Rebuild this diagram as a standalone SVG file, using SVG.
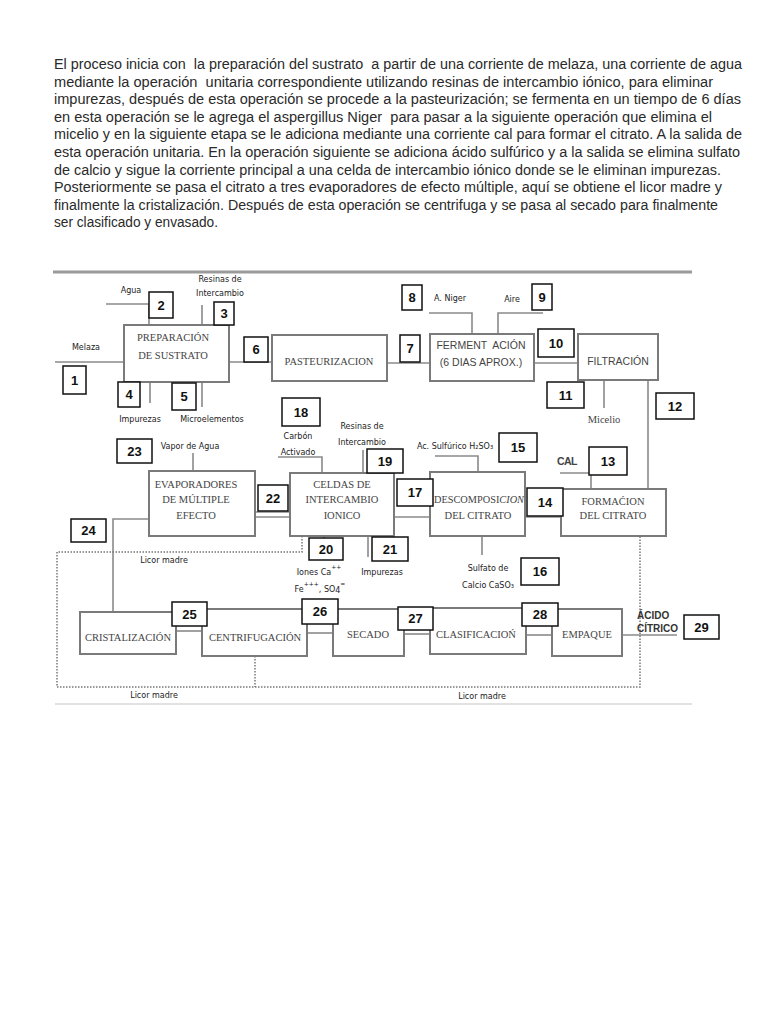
<svg xmlns="http://www.w3.org/2000/svg" width="768" height="1024" viewBox="0 0 768 1024">
<style>
.para{font-family:"Liberation Sans",Arial,sans-serif;font-size:14px;fill:#2a2a2a;white-space:pre}
.box{fill:#fff;stroke:#7a7a7a;stroke-width:2}
.num{fill:#fff;stroke:#111;stroke-width:1.5}
.nt{font-family:"Liberation Sans",Arial,sans-serif;font-size:13px;font-weight:bold;fill:#111;text-anchor:middle}
.bt{font-family:"Liberation Serif","Times New Roman",serif;font-size:10.5px;fill:#444;text-anchor:middle}
.bs{font-family:"Liberation Sans",Arial,sans-serif;font-size:10.5px;fill:#444;text-anchor:middle}
.lb{font-family:"DejaVu Sans",sans-serif;font-size:8px;fill:#222;text-anchor:middle}
.ln{fill:none;stroke:#8a8a8a;stroke-width:1.6}
.dot{fill:none;stroke:#777;stroke-width:1.5;stroke-dasharray:1.5 1.5}
</style>
<rect width="768" height="1024" fill="#fff"/>
<g id="paragraph">
<text class="para" x="54" y="69" textLength="688" lengthAdjust="spacingAndGlyphs">El proceso inicia con  la preparación del sustrato  a partir de una corriente de melaza, una corriente de agua</text>
<text class="para" x="54" y="86.6" textLength="659" lengthAdjust="spacingAndGlyphs">mediante la operación  unitaria correspondiente utilizando resinas de intercambio iónico, para eliminar</text>
<text class="para" x="54" y="104.2" textLength="687" lengthAdjust="spacingAndGlyphs">impurezas, después de esta operación se procede a la pasteurización; se fermenta en un tiempo de 6 días</text>
<text class="para" x="54" y="121.8" textLength="658" lengthAdjust="spacingAndGlyphs">en esta operación se le agrega el aspergillus Niger  para pasar a la siguiente operación que elimina el</text>
<text class="para" x="54" y="139.4" textLength="688" lengthAdjust="spacingAndGlyphs">micelio y en la siguiente etapa se le adiciona mediante una corriente cal para formar el citrato. A la salida de</text>
<text class="para" x="54" y="157" textLength="686" lengthAdjust="spacingAndGlyphs">esta operación unitaria. En la operación siguiente se adiciona ácido sulfúrico y a la salida se elimina sulfato</text>
<text class="para" x="54" y="174.6" textLength="667" lengthAdjust="spacingAndGlyphs">de calcio y sigue la corriente principal a una celda de intercambio iónico donde se le eliminan impurezas.</text>
<text class="para" x="54" y="192.2" textLength="668" lengthAdjust="spacingAndGlyphs">Posteriormente se pasa el citrato a tres evaporadores de efecto múltiple, aquí se obtiene el licor madre y</text>
<text class="para" x="54" y="209.8" textLength="664" lengthAdjust="spacingAndGlyphs">finalmente la cristalización. Después de esta operación se centrifuga y se pasa al secado para finalmente</text>
<text class="para" x="54" y="227.4" textLength="164" lengthAdjust="spacingAndGlyphs">ser clasificado y envasado.</text>
</g>
<g id="frame">
<path d="M53,272 H692" stroke="#9a9a9a" stroke-width="3"/>
<path d="M55,704 H692" stroke="#e2e2e2" stroke-width="2"/>
</g>
<g id="connectors">
<path class="ln" d="M55,362 H124"/>
<path class="ln" d="M106,304 H149 V325"/>
<path class="ln" d="M202,305 V325"/>
<path class="ln" d="M150,382 V403"/>
<path class="ln" d="M202,382 V407"/>
<path class="ln" d="M229,362 H272"/>
<path class="ln" d="M387,363 H430"/>
<path class="ln" d="M429,313 H472 V334"/>
<path class="ln" d="M543,313 H498 V334"/>
<path class="ln" d="M534,363 H578"/>
<path class="ln" d="M604,380 V408"/>
<path class="ln" d="M648,380 V489"/>
<path class="ln" d="M560,473 H591 V489"/>
<path class="ln" d="M561,517 H525"/>
<path class="ln" d="M435,456 H478 V472"/>
<path class="ln" d="M482,536 V555"/>
<path class="ln" d="M430,517 H394"/>
<path class="ln" d="M278,457 H322 V473"/>
<path class="ln" d="M363,450 V473"/>
<path class="ln" d="M324,536 V540"/>
<path class="ln" d="M368,536 V557"/>
<path class="ln" d="M290,512 H255"/>
<path class="ln" d="M290,517 H255"/>
<path class="ln" d="M193,453 V471"/>
<path class="ln" d="M149,519 H113 V612"/>
<path class="ln" d="M176,631 H202"/>
<path class="ln" d="M307,633 H333"/>
<path class="ln" d="M404,634 H430"/>
<path class="ln" d="M526,635 H552"/>
<path class="ln" d="M622,635 H677"/>
<path class="dot" d="M302,536 V552 H57 V687 H640 V536"/>
<path class="dot" d="M255,656 V687"/>
</g>
<g id="prep"><rect class="box" x="124" y="325" width="105" height="57"/><text class="bt" x="173" y="341">PREPARACIÓN</text><text class="bt" x="173" y="359">DE SUSTRATO</text></g>
<g id="past"><rect class="box" x="272" y="335" width="115" height="46"/><text class="bt" x="329" y="365">PASTEURIZACION</text></g>
<g id="ferm"><rect class="box" x="430" y="334" width="104" height="47"/><text class="bs" x="481" y="349" style="white-space:pre">FERMENT  ACIÓN</text><text class="bs" x="481" y="366">(6 DIAS APROX.)</text></g>
<g id="filt"><rect class="box" x="578" y="334" width="80" height="46"/><text class="bs" x="618" y="365">FILTRACIÓN</text></g>
<g id="evap"><rect class="box" x="149" y="471" width="106" height="65"/><text class="bt" x="196" y="488">EVAPORADORES</text><text class="bt" x="196" y="503">DE MÚLTIPLE</text><text class="bt" x="196" y="519">EFECTO</text></g>
<g id="celdas"><rect class="box" x="290" y="473" width="104" height="63"/><text class="bt" x="342" y="488">CELDAS DE</text><text class="bt" x="342" y="503">INTERCAMBIO</text><text class="bt" x="342" y="519">IONICO</text></g>
<g id="descomp"><rect class="box" x="430" y="472" width="95" height="64"/><text class="bt" x="479" y="503" textLength="90" lengthAdjust="spacingAndGlyphs">DESCOMPOSI<tspan font-style="italic">CION</tspan></text><text class="bt" x="478" y="519">DEL CITRATO</text></g>
<g id="form"><rect class="box" x="561" y="489" width="105" height="47"/><text class="bt" x="613" y="505">FORMAĆION</text><text class="bt" x="613" y="519">DEL CITRATO</text></g>
<g id="crist"><rect class="box" x="80" y="612" width="96" height="42"/><text class="bt" x="128" y="641">CRISTALIZACIÓN</text></g>
<g id="centrif"><rect class="box" x="202" y="609" width="105" height="47"/><text class="bt" x="255" y="641">CENTRIFUGACIÓN</text></g>
<g id="secado"><rect class="box" x="333" y="609" width="71" height="47"/><text class="bt" x="368" y="638">SECADO</text></g>
<g id="clasif"><rect class="box" x="430" y="608" width="96" height="46"/><text class="bt" x="476" y="638">CLASIFICACIOŃ</text></g>
<g id="empaque"><rect class="box" x="552" y="609" width="70" height="47"/><text class="bt" x="587" y="638">EMPAQUE</text></g>
<g id="labels">
<text class="lb" x="86" y="350">Melaza</text>
<text class="lb" x="131" y="293">Agua</text>
<text class="lb" x="220" y="282">Resinas de</text>
<text class="lb" x="220" y="296">Intercambio</text>
<text class="lb" x="140" y="422">Impurezas</text>
<text class="lb" x="212" y="422">Microelementos</text>
<text class="lb" x="450" y="301" font-size="9">A. Niger</text>
<text class="lb" x="512" y="302" font-size="9">Aire</text>
<text class="bt" x="604" y="423" font-size="9.5">Micelio</text>
<text class="lb" x="298" y="439">Carbón</text>
<text class="lb" x="298" y="455">Activado</text>
<text class="lb" x="362" y="429">Resinas de</text>
<text class="lb" x="362" y="445">Intercambio</text>
<text class="lb" x="455" y="449">Ac. Sulfúrico H₂SO₃</text>
<text class="bs" x="567" y="465" font-size="9" font-weight="bold" letter-spacing="-0.5">CAL</text>
<text class="lb" x="190" y="449">Vapor de Agua</text>
<text class="lb" x="164" y="563">Licor madre</text>
<text class="lb" x="154" y="698">Licor madre</text>
<text class="lb" x="482" y="699">Licor madre</text>
<text class="lb" x="319" y="575">Iones Ca<tspan dy="-6" font-size="6">++</tspan></text>
<text class="lb" x="320" y="592">Fe<tspan dy="-6" font-size="6">+++</tspan><tspan dy="6">, SO</tspan><tspan dy="1">4</tspan><tspan dy="-7" font-size="6">=</tspan></text>
<text class="lb" x="382" y="575">Impurezas</text>
<text class="lb" x="488" y="571">Sulfato de</text>
<text class="lb" x="488" y="588">Calcio CaSO₃</text>
<text x="637" y="619" font-family="Liberation Sans,Arial,sans-serif" font-size="10" font-weight="bold" fill="#333">ÁCIDO</text>
<text x="637" y="632" font-family="Liberation Sans,Arial,sans-serif" font-size="10" font-weight="bold" fill="#333">CÍTRICO</text>
</g>
<g id="n1"><rect class="num" x="63" y="366" width="23" height="28"/><text class="nt" x="74.5" y="385">1</text></g>
<g id="n2"><rect class="num" x="149" y="292" width="24" height="26"/><text class="nt" x="161" y="310">2</text></g>
<g id="n3"><rect class="num" x="214" y="302" width="20" height="23"/><text class="nt" x="224" y="318">3</text></g>
<g id="n4"><rect class="num" x="118" y="382" width="22" height="25"/><text class="nt" x="129" y="399">4</text></g>
<g id="n5"><rect class="num" x="172" y="383" width="24" height="27"/><text class="nt" x="184" y="401">5</text></g>
<g id="n6"><rect class="num" x="244" y="337" width="24" height="25"/><text class="nt" x="256" y="354">6</text></g>
<g id="n7"><rect class="num" x="400" y="335" width="20" height="27"/><text class="nt" x="410" y="353">7</text></g>
<g id="n8"><rect class="num" x="402" y="285" width="20" height="25"/><text class="nt" x="412" y="302">8</text></g>
<g id="n9"><rect class="num" x="532" y="284" width="20" height="26"/><text class="nt" x="542" y="302">9</text></g>
<g id="n10"><rect class="num" x="538" y="329" width="36" height="28"/><text class="nt" x="556" y="348">10</text></g>
<g id="n11"><rect class="num" x="547" y="382" width="37" height="26"/><text class="nt" x="565.5" y="400">11</text></g>
<g id="n12"><rect class="num" x="656" y="393" width="38" height="26"/><text class="nt" x="675" y="411">12</text></g>
<g id="n13"><rect class="num" x="589" y="447" width="38" height="28"/><text class="nt" x="608" y="466">13</text></g>
<g id="n14"><rect class="num" x="527" y="488" width="36" height="28"/><text class="nt" x="545" y="507">14</text></g>
<g id="n15"><rect class="num" x="499" y="433" width="38" height="29"/><text class="nt" x="518" y="452">15</text></g>
<g id="n16"><rect class="num" x="521" y="558" width="38" height="27"/><text class="nt" x="540" y="576">16</text></g>
<g id="n17"><rect class="num" x="397" y="479" width="36" height="27"/><text class="nt" x="415" y="497">17</text></g>
<g id="n18"><rect class="num" x="282" y="398" width="38" height="28"/><text class="nt" x="301" y="417">18</text></g>
<g id="n19"><rect class="num" x="367" y="449" width="36" height="24"/><text class="nt" x="385" y="466">19</text></g>
<g id="n20"><rect class="num" x="309" y="538" width="34" height="22"/><text class="nt" x="326" y="554">20</text></g>
<g id="n21"><rect class="num" x="372" y="537" width="36" height="24"/><text class="nt" x="390" y="554">21</text></g>
<g id="n22"><rect class="num" x="258" y="485" width="30" height="26"/><text class="nt" x="273" y="503">22</text></g>
<g id="n23"><rect class="num" x="117" y="439" width="35" height="24"/><text class="nt" x="134.5" y="456">23</text></g>
<g id="n24"><rect class="num" x="71" y="519" width="35" height="23"/><text class="nt" x="88.5" y="535">24</text></g>
<g id="n25"><rect class="num" x="172" y="602" width="35" height="24"/><text class="nt" x="189.5" y="619">25</text></g>
<g id="n26"><rect class="num" x="302" y="599" width="36" height="25"/><text class="nt" x="320" y="616">26</text></g>
<g id="n27"><rect class="num" x="398" y="607" width="35" height="23"/><text class="nt" x="415.5" y="623">27</text></g>
<g id="n28"><rect class="num" x="522" y="603" width="36" height="23"/><text class="nt" x="540" y="619">28</text></g>
<g id="n29"><rect class="num" x="684" y="615" width="35" height="24"/><text class="nt" x="701.5" y="632">29</text></g>
</svg>
